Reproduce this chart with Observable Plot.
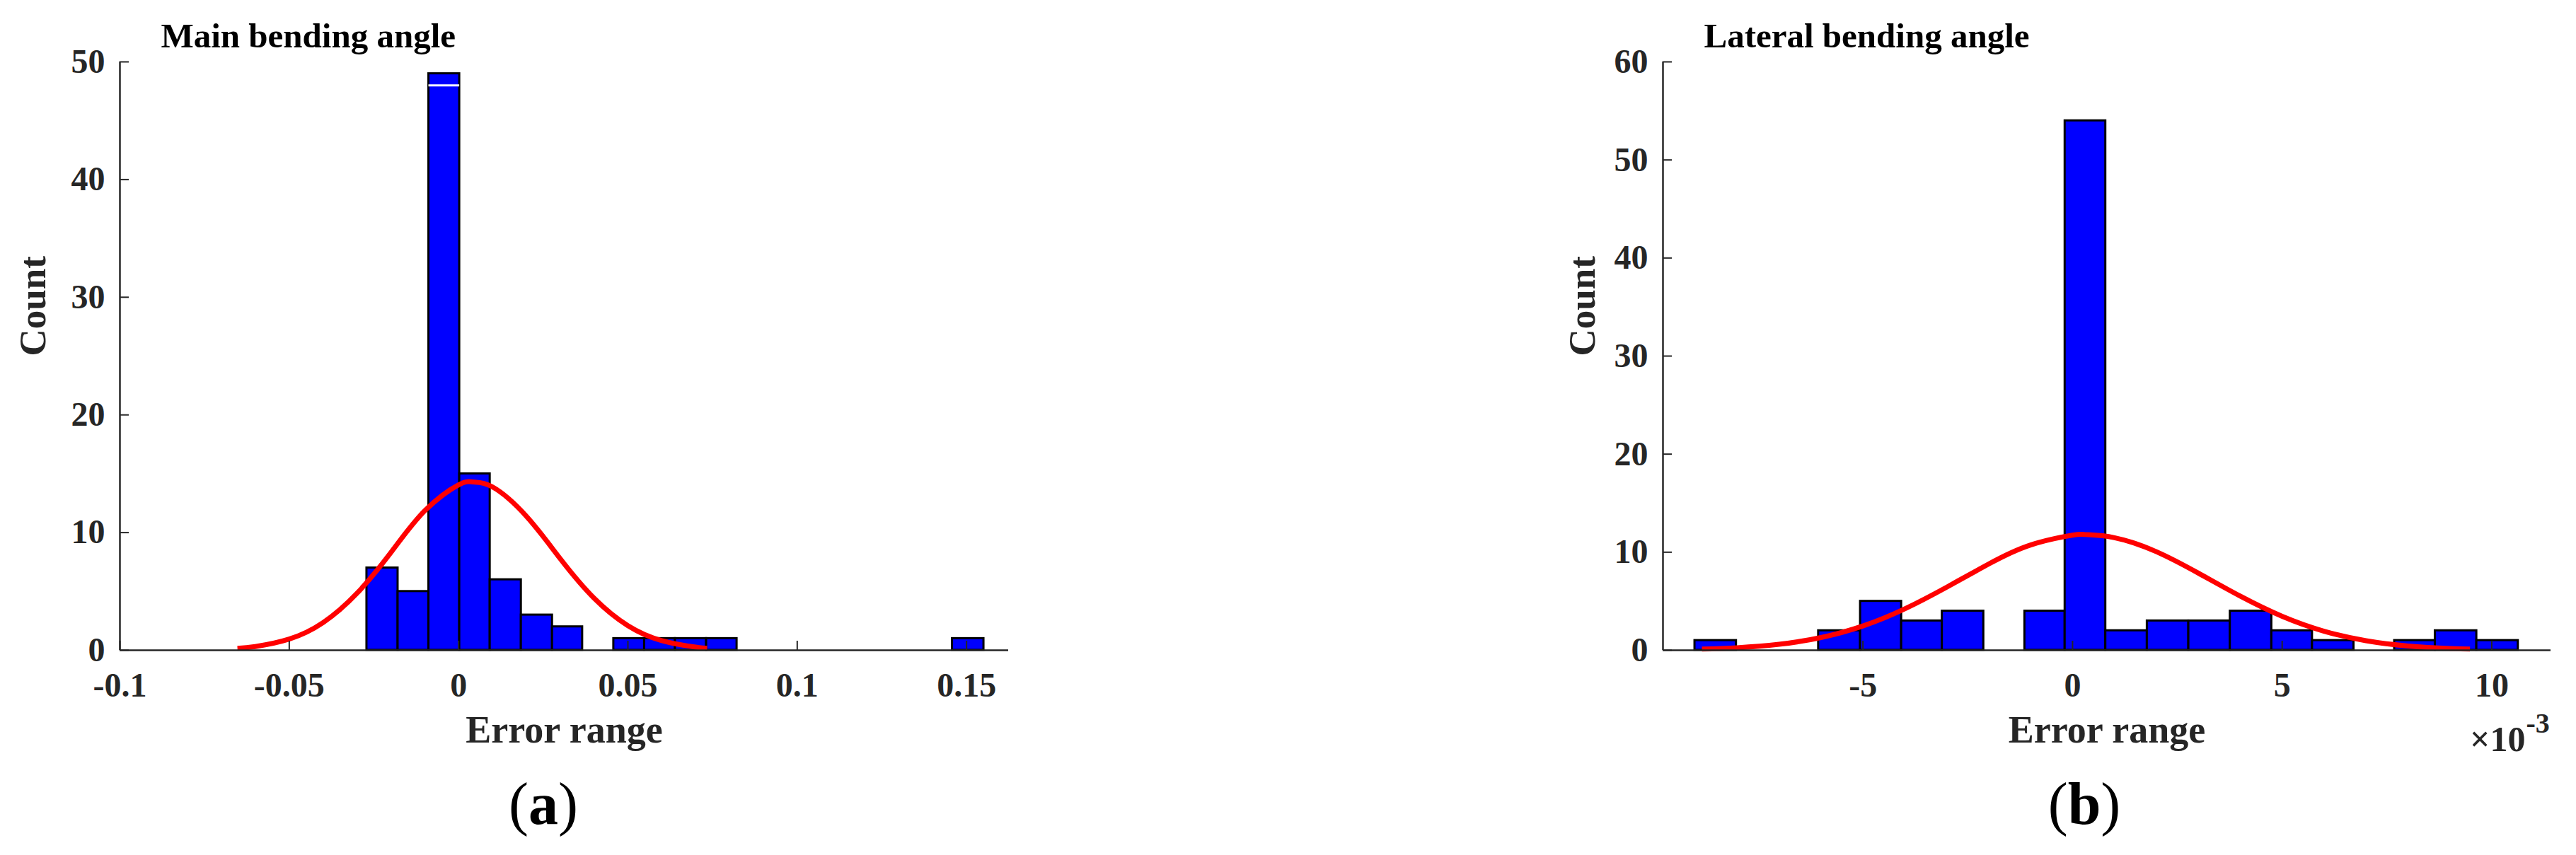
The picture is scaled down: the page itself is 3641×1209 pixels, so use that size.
<!DOCTYPE html>
<html><head><meta charset="utf-8">
<script src="https://cdn.jsdelivr.net/npm/d3@7"></script>
<script src="https://cdn.jsdelivr.net/npm/@observablehq/plot@0.6"></script>
<style>
html,body{margin:0;padding:0;background:#fff;}
#fig{position:relative;width:3641px;height:1209px;background:#fff;overflow:hidden;font-family:"Liberation Serif","Times New Roman",serif;}
#fig .panel{position:absolute;top:0;}
.cap{position:absolute;width:240px;text-align:center;font-size:84px;line-height:84px;color:#000;font-family:"Liberation Serif","Times New Roman",serif;}
</style></head><body>
<div id="fig">
  <div id="pa" class="panel" style="left:0px"></div>
  <div id="pb" class="panel" style="left:2150px"></div>
  <div class="cap" style="left:648px;top:1095px">(<b>a</b>)</div>
  <div class="cap" style="left:2826px;top:1095px">(<b>b</b>)</div>
</div>
<script>
// ---------- text ----------
const leftTitle = "Main bending angle";
const rightTitle = "Lateral bending angle";
const xLabel = "Error range";
const yLabel = "Count";
const rightExpBase = "×10";
const rightExpPower = "-3";

// ---------- left panel: Main bending angle ----------
const leftBinEdges = [-0.0271, -0.0179, -0.0088, 0.0003, 0.0093, 0.0185, 0.0277, 0.0366, 0.0458, 0.0549, 0.0640,
                      0.0732, 0.0822, 0.0913, 0.1004, 0.1095, 0.1186, 0.1277, 0.1368, 0.1458, 0.1551];
const leftCounts = [7, 5, 49, 15, 6, 3, 2, 0, 1, 1, 1, 1, 0, 0, 0, 0, 0, 0, 0, 1];
const leftCurveX = [-0.0653, -0.06, -0.05, -0.04, -0.03, -0.02, -0.01, 0, 0.0043, 0.01, 0.02, 0.03, 0.04, 0.05, 0.06, 0.07, 0.0734];
const leftCurveY = [0.17, 0.32, 0.95, 2.35, 4.84, 8.30, 11.85, 14.06, 14.30, 13.88, 11.40, 7.79, 4.43, 2.09, 0.82, 0.27, 0.17];
const leftXTicks = [-0.1, -0.05, 0, 0.05, 0.1, 0.15];
const leftXTickLabels = ["-0.1", "-0.05", "0", "0.05", "0.1", "0.15"];
const leftYTicks = [0, 10, 20, 30, 40, 50];
const leftXDomain = [-0.1, 0.1624];
const leftYDomain = [0, 50];
const leftGapLineY = [48];   // thin white line across the tallest bar

// ---------- right panel: Lateral bending angle ----------
const rightBinEdges = [-0.00901, -0.00802, -0.00704, -0.00606, -0.00506, -0.00408, -0.00311, -0.00212, -0.00114, -0.00018,
                       0.00079, 0.00178, 0.00277, 0.00376, 0.00475, 0.00572, 0.00671, 0.00768, 0.00865, 0.00964, 0.01063];
const rightCounts = [1, 0, 0, 2, 5, 3, 4, 0, 4, 54, 2, 3, 3, 4, 2, 1, 0, 1, 2, 1];
const rightCurveX = [-0.00884, -0.008, -0.007, -0.006, -0.005, -0.004, -0.003, -0.002, -0.001, 0, 0.0003,
                     0.001, 0.002, 0.003, 0.004, 0.005, 0.006, 0.007, 0.008, 0.009, 0.00948];
const rightCurveY = [0.12, 0.26, 0.61, 1.30, 2.48, 4.23, 6.44, 8.80, 10.74, 11.74, 11.80,
                     11.48, 10.05, 7.87, 5.52, 3.46, 1.94, 0.97, 0.44, 0.18, 0.12];
const rightXTicks = [-0.005, 0, 0.005, 0.01];
const rightXTickLabels = ["-5", "0", "5", "10"];
const rightYTicks = [0, 10, 20, 30, 40, 50, 60];
const rightXDomain = [-0.00977, 0.01141];
const rightYDomain = [0, 60];

const axisColor = "#262626";
const serif = "'Liberation Serif', 'Times New Roman', serif";

function panel(o) {
  const frameH = o.height - o.marginTop - o.marginBottom;
  const frameW = o.width - o.marginLeft - o.marginRight;
  const bins = o.counts.map((c, i) => ({x1: o.edges[i], x2: o.edges[i + 1], count: c})).filter(d => d.count > 0);
  const curve = o.curveX.map((x, i) => ({x, y: o.curveY[i]}));
  const tallest = bins.reduce((a, b) => (b.count > a.count ? b : a));
  const marks = [
    Plot.rectY(bins, {x1: "x1", x2: "x2", y: "count", fill: "#0000FF", stroke: "#000", strokeWidth: 3}),
  ];
  if (o.gapLine) {
    marks.push(Plot.ruleY(o.gapLine, {y: d => d, x1: tallest.x1, x2: tallest.x2, stroke: "#fff", strokeWidth: 3}));
  }
  marks.push(
    Plot.line(curve, {x: "x", y: "y", curve: "natural", stroke: "#FF0000", strokeWidth: 7, strokeLinecap: "butt"}),
    Plot.ruleY([o.yDomain[0]], {stroke: axisColor, strokeWidth: 2.5}),
    Plot.ruleX([o.xDomain[0]], {stroke: axisColor, strokeWidth: 2.5}),
    Plot.tickX(o.xTicks, {x: d => d, insetTop: frameH - 13, stroke: axisColor, strokeWidth: 2}),
    Plot.tickY(o.yTicks, {y: d => d, insetRight: frameW - 13, stroke: axisColor, strokeWidth: 2}),
    Plot.axisX(o.xTicks, {tickSize: 0, tickPadding: 31, tickFormat: d => o.xTickLabels[o.xTicks.indexOf(d)],
      fontSize: 48, fontWeight: "bold", fill: axisColor, label: null}),
    Plot.axisY(o.yTicks, {tickSize: 0, tickPadding: 21, tickFormat: d => String(d),
      fontSize: 48, fontWeight: "bold", fill: axisColor, label: null}),
    Plot.text([o.title], {frameAnchor: "top-left", textAnchor: "start", lineAnchor: "bottom", dx: 58, dy: -21,
      fontSize: 49, fontWeight: "bold", fill: "#000"}),
    Plot.text([yLabel], {frameAnchor: "left", rotate: -90, dx: o.yLabelDx, fontSize: 53, fontWeight: "bold", fill: axisColor}),
    Plot.text([xLabel], {frameAnchor: "bottom", lineAnchor: "bottom", dy: 130, fontSize: 54, fontWeight: "bold", fill: axisColor})
  );
  if (o.exponent) {
    marks.push(
      Plot.text([o.exponent[0]], {frameAnchor: "bottom-right", textAnchor: "end", lineAnchor: "bottom", dx: -36, dy: 142,
        fontSize: 50, fontWeight: "bold", fill: axisColor}),
      Plot.text([o.exponent[1]], {frameAnchor: "bottom-right", textAnchor: "start", lineAnchor: "bottom", dx: -35, dy: 116,
        fontSize: 40, fontWeight: "bold", fill: axisColor})
    );
  }
  return Plot.plot({
    width: o.width, height: o.height,
    marginLeft: o.marginLeft, marginRight: o.marginRight, marginTop: o.marginTop, marginBottom: o.marginBottom,
    x: {domain: o.xDomain},
    y: {domain: o.yDomain},
    style: {fontFamily: serif, background: "transparent", overflow: "visible"},
    marks
  });
}

document.getElementById("pa").append(panel({
  width: 1450, height: 1209, marginLeft: 169, marginRight: 25, marginTop: 87, marginBottom: 290,
  edges: leftBinEdges, counts: leftCounts, curveX: leftCurveX, curveY: leftCurveY,
  xTicks: leftXTicks, xTickLabels: leftXTickLabels, yTicks: leftYTicks,
  xDomain: leftXDomain, yDomain: leftYDomain, title: leftTitle, yLabelDx: -122, gapLine: leftGapLineY
}));
document.getElementById("pb").append(panel({
  width: 1491, height: 1209, marginLeft: 200, marginRight: 36, marginTop: 87, marginBottom: 290,
  edges: rightBinEdges, counts: rightCounts, curveX: rightCurveX, curveY: rightCurveY,
  xTicks: rightXTicks, xTickLabels: rightXTickLabels, yTicks: rightYTicks,
  xDomain: rightXDomain, yDomain: rightYDomain, title: rightTitle, yLabelDx: -113,
  exponent: [rightExpBase, rightExpPower]
}));
</script></body></html>
